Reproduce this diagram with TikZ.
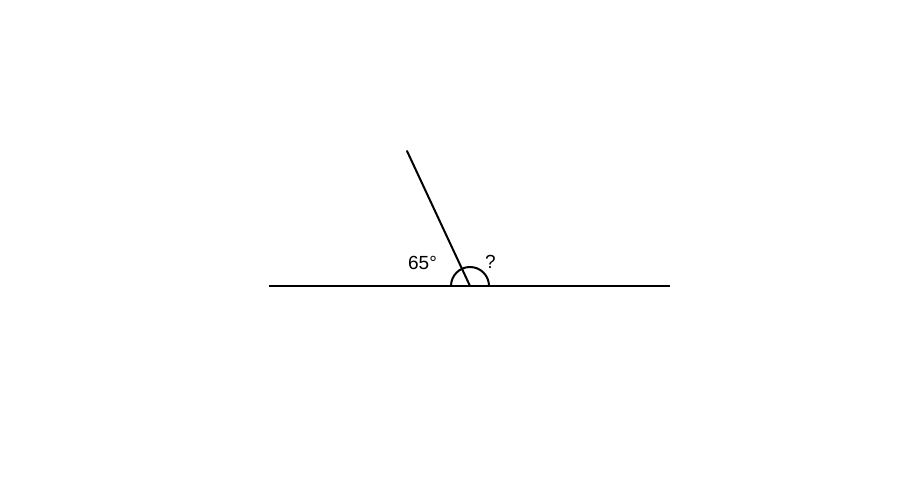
\documentclass[tikz,border=0pt]{standalone}
\usepackage{fontspec}
\setmainfont{Liberation Sans}
\begin{document}
\begin{tikzpicture}[x=1pt,y=-1pt,
  geo/.style={line width=2pt,black},
  lbl/.style={font=\fontsize{19}{21}\selectfont,inner sep=0pt}]
\useasboundingbox (0,0) rectangle (917,502);
\coordinate (L) at (269,286);
\coordinate (R) at (670,286);
\coordinate (O) at (470,286);
\coordinate (T) at (407,151);
\draw[geo] (L) -- (R);
\draw[geo,line cap=round] (O) -- (T);
\draw[geo] ([xshift=-19pt]O) arc[start angle=180,end angle=0,radius=19pt];
\node[lbl] (a) at (422.5,263) {65°};
\node[lbl] (q) at (490.5,262) {?};
\end{tikzpicture}
\end{document}
